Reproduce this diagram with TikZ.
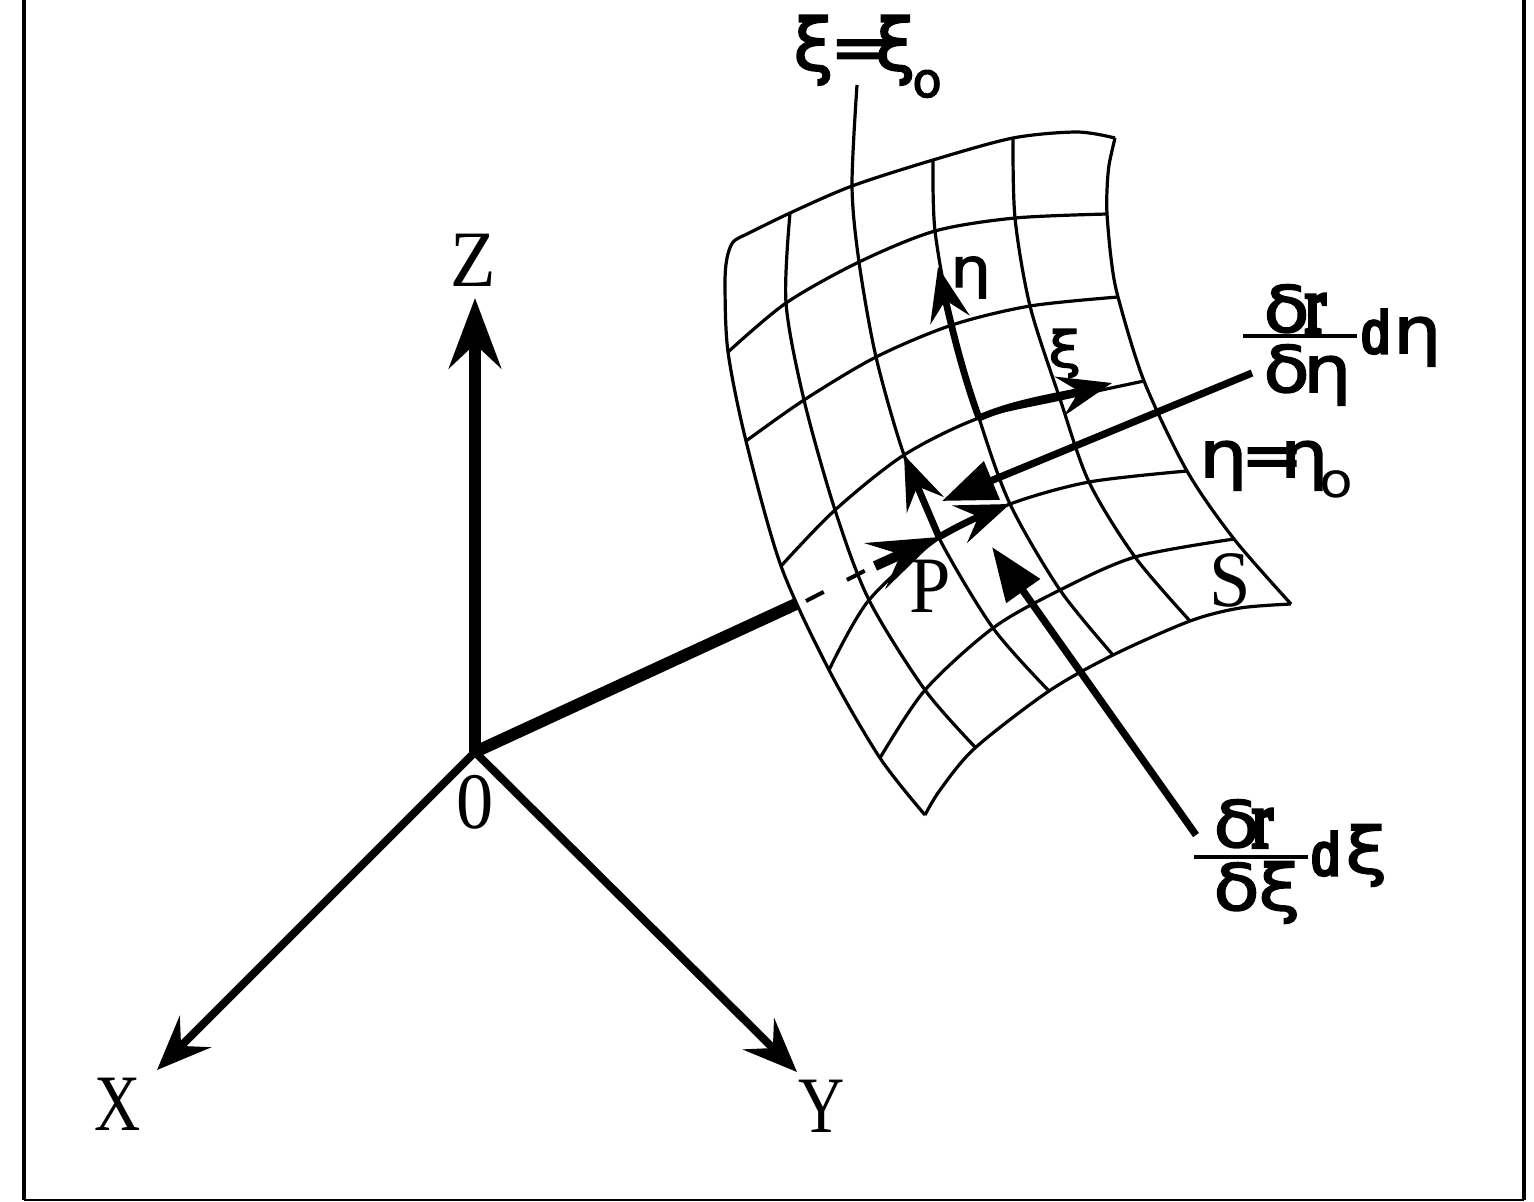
\documentclass[tikz,border=0pt]{standalone}
\usepackage{fontspec}
\usetikzlibrary{arrows.meta}
\newfontfamily\serifnarrow[FakeStretch=0.8]{Liberation Serif}
\newfontfamily\serifwide[FakeStretch=0.93]{Liberation Serif}
\newfontfamily\serifbold[FakeStretch=0.75,FakeBold=5]{Liberation Serif}
\newfontfamily\greekfont[FakeBold=2.5]{DejaVu Sans}
\newfontfamily\greekwide[FakeStretch=1.18,FakeBold=2.5]{DejaVu Sans}
\newfontfamily\greekplain[FakeStretch=1.15]{DejaVu Sans}
\newfontfamily\sansbold[FakeStretch=0.85,FakeBold=5]{Liberation Sans}
\tikzset{
  gridline/.style={line width=1.6pt,line join=round},
  axisbig/.style={line width=6.2pt,-{Stealth[length=35pt,width=26pt,inset=12pt]}},
  axisthin/.style={line width=4pt,-{Stealth[length=27pt,width=22pt,inset=10pt]}},
  barbarrow/.style={line width=3.4pt,-{Stealth[length=27pt,width=20pt,inset=10pt]}},
  solidarrow/.style={line width=3.6pt,-{Stealth[length=27pt,width=20pt,inset=0pt]}},
  capital/.style={inner sep=0pt,anchor=base,font=\serifwide\fontsize{40}{40}\selectfont},
  capitalx/.style={inner sep=0pt,anchor=base,font=\serifnarrow\fontsize{40}{40}\selectfont},
  greeklabel/.style={inner sep=0pt,anchor=base west,font=\greekfont\fontsize{#1}{#1}\selectfont},
  widelabel/.style={inner sep=0pt,anchor=base west,font=\greekwide\fontsize{#1}{#1}\selectfont},
  sublabel/.style={inner sep=0pt,anchor=base west,font=\greekplain\fontsize{24}{24}\selectfont},
  boldr/.style={inner sep=0pt,anchor=base west,font=\serifbold\fontsize{40}{40}\selectfont},
  boldd/.style={inner sep=0pt,anchor=base west,font=\sansbold\fontsize{30}{30}\selectfont},
}
\begin{document}
\begin{tikzpicture}[x=0.5pt,y=0.5pt,yscale=-1]
\useasboundingbox (0,0) rectangle (1534,1201);
% Frame
\draw [line width=2pt] (24,0) -- (24,1200);
\draw [line width=2pt] (1524,0) -- (1524,1200);
\draw [line width=1pt] (24,1200) -- (1524,1200);
% Surface outline
\draw [gridline] plot [smooth] coordinates {(745,235) (790,213) (852,186) (933,160) (1013,138) (1077,132) (1115,138)};
\draw [gridline] plot [smooth] coordinates {(1115,138) (1109,165) (1107,190) (1107,214) (1111,258) (1118,297) (1144,381) (1187,471) (1234,539) (1291,604)};
\draw [gridline] plot [smooth] coordinates {(745,235) (733,242) (727,258) (725,285) (728,352) (746,441) (781,566) (829,670) (880,758) (925,815)};
\draw [gridline] plot [smooth] coordinates {(925,815) (940,790) (975,748) (1049,691) (1113,655) (1190,621) (1240,608) (1291,604)};
% Rows
\draw [gridline] plot [smooth] coordinates {(728,352) (786,303) (859,262) (935,231) (1015,218) (1107,214)};
\draw [gridline] plot [smooth] coordinates {(746,441) (804,400) (876,357) (952,325) (1030,306) (1118,297)};
\draw [gridline] plot [smooth] coordinates {(781,566) (835,510) (904,455) (979,418) (1060,399) (1144,381)};
\draw [gridline] plot [smooth] coordinates {(829,670) (869,600) (939,538) (1010,504) (1089,482) (1187,471)};
\draw [gridline] plot [smooth] coordinates {(880,758) (925,690) (993,628) (1060,590) (1135,557) (1234,539)};
% Columns
\draw [gridline] plot [smooth] coordinates {(790,213) (786,303) (804,400) (835,510) (869,600) (925,690) (976,748)};
\draw [gridline] plot [smooth] coordinates {(857,85) (852,186) (859,262) (876,357) (904,455) (939,538) (993,628) (1049,691)};
\draw [gridline] plot [smooth] coordinates {(933,160) (935,231) (952,325) (979,418) (1010,504) (1060,590) (1113,655)};
\draw [gridline] plot [smooth] coordinates {(1013,138) (1015,218) (1030,306) (1060,399) (1089,482) (1135,557) (1190,621)};
% Named points
\coordinate (origin) at (475,752);
\coordinate (ztip) at (475,298);
\coordinate (xtip) at (157,1070);
\coordinate (ytip) at (797,1072);
\coordinate (surfhit) at (796,604);
\coordinate (dashstart) at (806,601);
\coordinate (dashend) at (870,568);
\coordinate (ptail) at (875,566);
\coordinate (pointp) at (939,537);
\coordinate (etatip) at (904,455);
\coordinate (xitip) at (1010,504);
\coordinate (gridq) at (979,418);
\coordinate (etaend) at (938,267);
\coordinate (xiend) at (1112,383);
\coordinate (detastart) at (1252,373);
\coordinate (detatip) at (942,501);
\coordinate (dxistart) at (1196,835);
\coordinate (dxitip) at (992,547);
% Axes
\draw [axisbig] (origin) -- (ztip);
\draw [axisthin] (origin) -- (xtip);
\draw [axisthin] (origin) -- (ytip);
\draw [line width=6pt] (origin) -- (surfhit);
\draw [line width=2pt,dash pattern=on 10pt off 13pt] (dashstart) -- (dashend);
% Vectors on the surface
\draw [line width=5pt,-{Stealth[length=35pt,width=25pt,inset=14pt]}] (ptail) -- (pointp);
\draw [barbarrow] (pointp) -- (etatip);
\draw [barbarrow] (pointp) .. controls (965,522) and (985,514) .. (xitip);
\draw [barbarrow] (gridq) .. controls (962,372) and (950,320) .. (etaend);
\draw [barbarrow] (gridq) .. controls (1015,402) and (1060,396) .. (xiend);
\draw [solidarrow] (detastart) -- (detatip);
\draw [solidarrow] (dxistart) -- (dxitip);
% Fraction bars
\coordinate (barea) at (1243,336);
\coordinate (bareb) at (1357,336);
\coordinate (barxa) at (1194,857);
\coordinate (barxb) at (1308,857);
\draw [line width=2pt] (barea) -- (bareb);
\draw [line width=2pt] (barxa) -- (barxb);
% Text Node
\node [capital] (labz) at (473,286) {Z};
\node [capitalx] (labx) at (118,1130) {X};
\node [capitalx] (laby) at (822,1132) {Y};
\node [capital] (labo) at (475,828) {0};
\node [capital] (labp) at (930,612) {P};
\node [capital] (labs) at (1230,606) {S};
% Text Node
\node [widelabel=27] (labeta) at (950,287) {η};
\node [widelabel=25] (labxi) at (1048,367) {ξ};
% Text Node
\node [greeklabel=36] (xia) at (793,70) {ξ};
\node [widelabel=33] (xieq) at (829,70) {=};
\node [greeklabel=36] (xib) at (875,70) {ξ};
\node [greeklabel=24] (xio) at (912,97) {o};
% Text Node
\node [widelabel=32] (etaa) at (1199,477) {η};
\node [widelabel=32] (etaeq) at (1240,477) {=};
\node [widelabel=32] (etab) at (1280,477) {η};
\node [sublabel] (etao) at (1319,497) {o};
% Text Node
\node [widelabel=32] (dela) at (1263,332) {δ};
\node [boldr] (ra) at (1305,332) {r};
\node [widelabel=32] (delb) at (1263,392) {δ};
\node [widelabel=32] (etac) at (1303,392) {η};
\node [boldd] (da) at (1361,353) {d};
\node [widelabel=32] (etad) at (1393,353) {η};
% Text Node
\node [widelabel=32] (delc) at (1213,847) {δ};
\node [boldr] (rb) at (1252,847) {r};
\node [widelabel=32] (deld) at (1213,910) {δ};
\node [widelabel=32] (xic) at (1258,910) {ξ};
\node [boldd] (db) at (1311,875) {d};
\node [widelabel=32] (xid) at (1345,873) {ξ};
\end{tikzpicture}
\end{document}
